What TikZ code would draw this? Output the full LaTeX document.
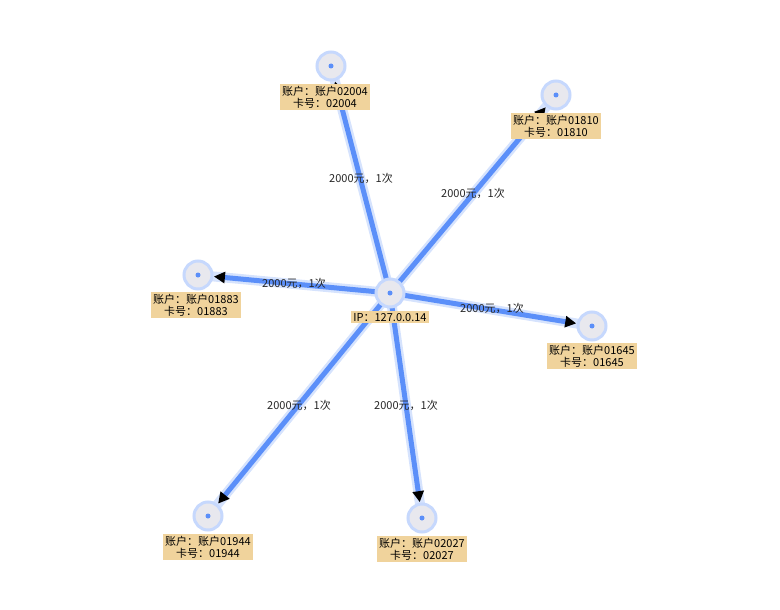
\documentclass[tikz,border=0pt]{standalone}
\usepackage{fontspec}
\setmainfont{Noto Sans CJK SC}
\usetikzlibrary{arrows.meta}
\definecolor{edge}{HTML}{5B8FF9}
\definecolor{lab}{HTML}{F0D39C}
\definecolor{nodef}{HTML}{E8E8EE}
\tikzset{
  vert/.style={circle,fill=nodef,minimum size=28pt,inner sep=0pt,draw=edge!35,line width=3pt},
  dot/.style={circle,fill=edge,inner sep=0pt,minimum size=5pt},
  tag/.style={fill=lab,font=\fontsize{11}{12}\selectfont,align=center,inner sep=2pt,anchor=north},
  glow/.style={edge!25,line width=10pt,line cap=round},
  link/.style={edge,line width=5pt,-{Triangle[length=11pt,width=11pt,color=black]},shorten >=1pt},
  elab/.style={font=\fontsize{11}{12}\selectfont,text=black!85}
}
\begin{document}
\begin{tikzpicture}[x=1pt,y=-1pt]
\useasboundingbox (0,0) rectangle (780,610);
\coordinate (c) at (390,293);
\foreach \n/\x/\y in {a/331/66,b/556/95,d/198/275,e/592/326,f/208/516,g/422/518}{
  \coordinate (\n) at (\x,\y);
}
\foreach \n in {a,b,d,e,f,g}{ \draw[glow] (c) -- (\n); }
\foreach \n in {a,b,d,e,f,g}{ \draw[link,shorten >=16pt] (c) -- (\n); }
\foreach \n in {c,a,b,d,e,f,g}{ \node[vert] (v\n) at (\n) {}; \node[dot] at (\n) {}; }
\node[tag] (tc) at (390,311) {IP：127.0.0.14};
\node[tag] (ta) at (325,84) {账户：账户02004\\卡号：02004};
\node[tag] (tb) at (556,113) {账户：账户01810\\卡号：01810};
\node[tag] (td) at (196,292) {账户：账户01883\\卡号：01883};
\node[tag] (te) at (592,343) {账户：账户01645\\卡号：01645};
\node[tag] (tf) at (208,534) {账户：账户01944\\卡号：01944};
\node[tag] (tg) at (422,536) {账户：账户02027\\卡号：02027};
\node[elab] (la) at (361,178) {2000元，1次};
\node[elab] (lb) at (473,193) {2000元，1次};
\node[elab] (ld) at (294,283) {2000元，1次};
\node[elab] (le) at (492,308) {2000元，1次};
\node[elab] (lf) at (299,405) {2000元，1次};
\node[elab] (lg) at (406,405) {2000元，1次};
\end{tikzpicture}
\end{document}
